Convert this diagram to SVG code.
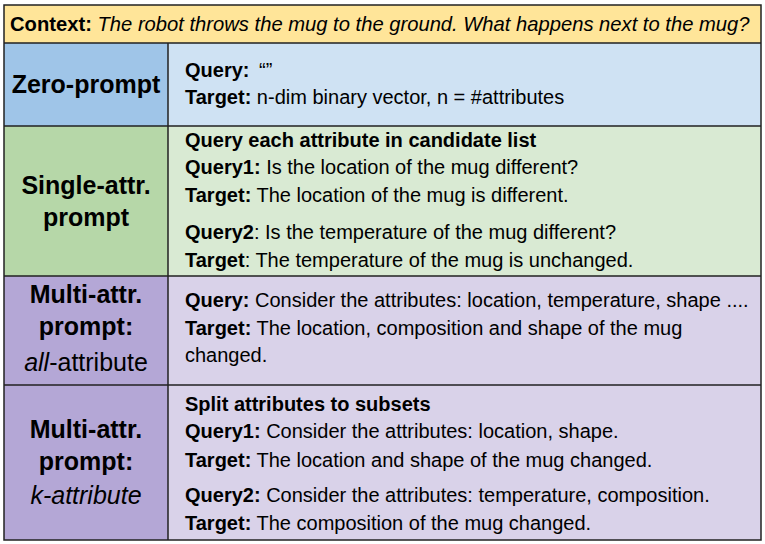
<svg xmlns="http://www.w3.org/2000/svg" width="765" height="544" viewBox="0 0 765 544">
<style>
text{font-family:"Liberation Sans",Arial,sans-serif;fill:#000}
.r{font-size:20px}
.c{font-size:20.2px}
.h{font-size:25px;font-weight:bold;text-anchor:middle}
.hi{font-size:25px;text-anchor:middle}
.b{font-weight:bold}
.i{font-style:italic}
.ln{stroke:#222;stroke-width:1.5;fill:none}
</style>
<rect width="765" height="544" fill="#fff"/>
<g id="context">
<rect x="4" y="5" width="757" height="38" fill="#ffe599"/>
<text class="c" x="10" y="31"><tspan class="b">Context:</tspan> <tspan class="i">The robot throws the mug to the ground. What happens next to the mug?</tspan></text>
</g>
<g id="zero">
<rect x="4" y="43" width="164" height="83" fill="#9fc5e8"/>
<rect x="168" y="43" width="593" height="83" fill="#cfe2f3"/>
<text class="h" x="86" y="93">Zero-prompt</text>
<text class="r" x="185" y="77"><tspan class="b">Query:</tspan><tspan x="259">“”</tspan></text>
<text class="r" x="185" y="104"><tspan class="b">Target:</tspan> n-dim binary vector, n = #attributes</text>
</g>
<g id="single">
<rect x="4" y="126" width="164" height="150" fill="#b6d7a8"/>
<rect x="168" y="126" width="593" height="150" fill="#d9ead3"/>
<text class="h" x="86" y="194">Single-attr.</text>
<text class="h" x="86" y="226">prompt</text>
<text class="r b" x="185" y="147">Query each attribute in candidate list</text>
<text class="r" x="185" y="174"><tspan class="b">Query1:</tspan> Is the location of the mug different?</text>
<text class="r" x="185" y="202"><tspan class="b">Target:</tspan> The location of the mug is different.</text>
<text class="r" x="185" y="239"><tspan class="b">Query2</tspan>: Is the temperature of the mug different?</text>
<text class="r" x="185" y="267"><tspan class="b">Target</tspan>: The temperature of the mug is unchanged.</text>
</g>
<g id="multi-all">
<rect x="4" y="276" width="164" height="109" fill="#b4a7d6"/>
<rect x="168" y="276" width="593" height="109" fill="#d9d2e9"/>
<text class="h" x="86" y="303">Multi-attr.</text>
<text class="h" x="86" y="335">prompt:</text>
<text class="hi" x="86" y="371"><tspan class="i">all</tspan>-attribute</text>
<text class="r" x="185" y="307"><tspan class="b">Query:</tspan> Consider the attributes: location, temperature, shape ....</text>
<text class="r" x="185" y="335"><tspan class="b">Target:</tspan> The location, composition and shape of the mug</text>
<text class="r" x="185" y="362">changed.</text>
</g>
<g id="multi-k">
<rect x="4" y="385" width="164" height="155" fill="#b4a7d6"/>
<rect x="168" y="385" width="593" height="155" fill="#d9d2e9"/>
<text class="h" x="86" y="438">Multi-attr.</text>
<text class="h" x="86" y="470">prompt:</text>
<text class="hi i" x="86" y="504">k-attribute</text>
<text class="r b" x="185" y="411">Split attributes to subsets</text>
<text class="r" x="185" y="438"><tspan class="b">Query1:</tspan> Consider the attributes: location, shape.</text>
<text class="r" x="185" y="467"><tspan class="b">Target:</tspan> The location and shape of the mug changed.</text>
<text class="r" x="185" y="502"><tspan class="b">Query2:</tspan> Consider the attributes: temperature, composition.</text>
<text class="r" x="185" y="530"><tspan class="b">Target:</tspan> The composition of the mug changed.</text>
</g>
<g id="connectors">
<rect class="ln" x="4" y="5" width="757" height="535"/>
<path class="ln" d="M4 43H761M4 126H761M4 276H761M4 385H761M168 43V540"/>
</g>
</svg>
